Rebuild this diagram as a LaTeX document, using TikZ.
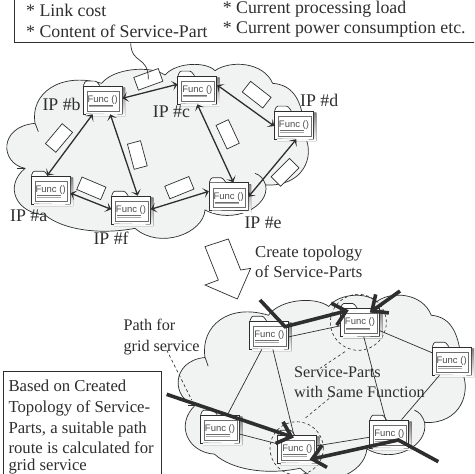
\documentclass[tikz,border=0pt]{standalone}
\usepackage{fontspec}
\setmainfont{Liberation Serif}
\newfontfamily\funcfont{Liberation Sans}
\usetikzlibrary{arrows.meta,calc}
\definecolor{ink}{HTML}{2E2E2E}
\definecolor{cloudfill}{HTML}{F1F2F2}
\definecolor{shade}{HTML}{A8A8A8}
\tikzset{
  folderbody/.style={draw=ink,line width=.7pt,fill=white,minimum width=39pt,minimum height=28pt,inner sep=0pt,text=ink!85,font=\funcfont\fontsize{9.5}{10}\selectfont},
  packet/.style={draw=ink,line width=.7pt,fill=white,minimum width=26pt,minimum height=13.5pt,inner sep=0pt},
  label/.style={anchor=base west,inner sep=0pt,text=ink,font=\fontsize{17.8}{20}\selectfont},
  midlabel/.style={anchor=base west,inner sep=0pt,text=ink,font=\fontsize{16.7}{20}\selectfont},
  smalllabel/.style={anchor=base west,inner sep=0pt,text=ink,font=\fontsize{16.2}{20}\selectfont},
  link/.style={draw=ink,line width=1.3pt,{Stealth[length=5.5pt,width=10pt,inset=3pt]}-{Stealth[length=5.5pt,width=10pt,inset=3pt]}},
  thin link/.style={draw=ink,line width=.7pt},
  route/.style={draw=ink,line width=3.6pt},
  dashring/.style={draw=ink,line width=.6pt,dash pattern=on 3pt off 2.5pt},
  textbox/.style={draw=ink,line width=1pt,fill=white}
}
% chevron head: #1 tail coordinate, #2 tip coordinate
\newcommand{\routehead}[2]{
  \draw[route,miter limit=10] ($(#2)!17pt!42:(#1)$) -- (#2) -- ($(#2)!17pt!-42:(#1)$);
}
\newcommand{\cloudshape}{
  \filldraw[draw=ink,line width=.7pt,fill=cloudfill]
    (105,370) .. controls (90,280) and (180,215) .. (305,250)
    .. controls (340,205) and (450,195) .. (495,225)
    .. controls (530,185) and (620,185) .. (645,212)
    .. controls (690,180) and (790,185) .. (818,250)
    .. controls (880,255) and (910,300) .. (915,410)
    .. controls (945,470) and (910,560) .. (797,555)
    .. controls (810,620) and (700,675) .. (615,630)
    .. controls (610,700) and (480,750) .. (405,685)
    .. controls (300,705) and (190,690) .. (135,645)
    .. controls (50,640) and (10,560) .. (75,505)
    .. controls (0,490) and (-5,380) .. (105,370) -- cycle;
  \draw[draw=ink,line width=.7pt] (105,370) .. controls (110,380) and (112,388) .. (115,395);
  \draw[draw=ink,line width=.7pt] (50,505) -- (75,505);
  \draw[draw=ink,line width=.7pt] (765,520) .. controls (780,525) and (790,535) .. (797,555);
}
% #1 name, #2 position
\newcommand{\folder}[2]{
  \node[folderbody] (#1) at (#2) {\raisebox{-.5pt}{Func ()}};
  \fill[shade] ($(#1.north east)+(0pt,-2pt)$) -- ++(2.5pt,0) -- ++(0,-28.5pt) -- ++(-39pt,0) -- ++(0,2.5pt) -- ($(#1.south east)$) -- cycle;
  \filldraw[draw=ink,line width=.7pt,fill=white,rounded corners=1.2pt] ($(#1.north west)+(.5pt,0)$) -- ++(2pt,4.5pt) -- ++(11pt,0) -- ++(3.5pt,-4.5pt);
  \draw[draw=ink!70,line width=.5pt] ($(#1.north west)+(4pt,-5.5pt)$) rectangle ($(#1.south east)+(-3pt,3.5pt)$);
  \draw[draw=shade,line width=1pt] ($(#1.center)+(-14pt,-7pt)$) -- ++(24pt,0);
  \draw[draw=ink!70,line width=.4pt] ($(#1.center)+(-14pt,-5.5pt)$) -- ++(24pt,0);
}
\begin{document}
\begin{tikzpicture}[x=0.33333pt,y=-0.33333pt]
\useasboundingbox (0,0) rectangle (1422,1422);
\clip (0,0) rectangle (1422,1422);
\fill[white] (0,0) rectangle (1422,1422);

% top box
\node[textbox,anchor=south west,minimum width=480pt,minimum height=60pt,inner sep=0pt] (topbox) at (42,130) {};
\node[label] (t1) at (78,50) {* Link cost};
\node[label] (t2) at (78,112) {* Content of Service-Part};
\node[label] (t3) at (668,40) {* Current processing load};
\node[label] (t4) at (668,102) {* Current power consumption etc.};

% upper cloud
\cloudshape
\node[packet,rotate=20] (p1) at (445,238) {};
\node[packet,rotate=50] (p2) at (177,414) {};
\node[packet,rotate=-75] (p3) at (412,465) {};
\node[packet,rotate=-23] (p4) at (274,565) {};
\node[packet,rotate=22] (p5) at (538,563) {};
\node[packet,rotate=-65] (p6) at (683,403) {};
\node[packet,rotate=-38] (p7) at (770,284) {};
\node[packet,rotate=45] (p8) at (855,517) {};
\coordinate (boxfoot) at (392,130);
\draw[thin link] (boxfoot) .. controls (395,195) and (445,165) .. (p1.center);

\folder{a}{152,570}
\folder{b}{308,300}
\folder{c}{592,270}
\folder{d}{882,375}
\folder{e}{686,590}
\folder{f}{393,630}
\draw[link] (a.104) -- (b.-125);
\draw[link] (b.5) -- (c.164);
\draw[link] (b.-62) -- (f.65);
\draw[link] (a.-9) -- (f.178);
\draw[link] (f.2) -- (e.165);
\draw[link] (c.-90) -- (e.72);
\draw[link] (c.14) -- (d.-177);
\draw[link] (e.0) -- (d.-81);

\node[label] (ipa) at (30,664) {IP \#a};
\node[label] (ipb) at (127,330) {IP \#b};
\node[label] (ipc) at (458,353) {IP \#c};
\node[label] (ipd) at (900,320) {IP \#d};
\node[label] (ipe) at (733,684) {IP \#e};
\node[label] (ipf) at (280,732) {IP \#f};

\begin{scope}[shift={(0,705)}]
% hollow arrow
\filldraw[draw=ink,line width=.7pt,fill=white] (615,35) -- (685,12) -- (722,105) -- (752,100) -- (712,192) -- (615,150) -- (655,135) -- cycle;
\node[midlabel] (l1) at (765,66) {Create topology};
\node[midlabel] (l2) at (765,128) {of Service-Parts};

% lower cloud
\begin{scope}[shift={(515,-23)},xscale=.952,yscale=1.055]
\cloudshape
\end{scope}

\draw[dashring] (1075,262) circle[radius=84*0.33333pt];
\draw[dashring] (890,640) circle[radius=80*0.33333pt];

\folder{a2}{660,582}
\folder{b2}{808,300}
\folder{c2}{1080,262}
\folder{d2}{1355,378}
\folder{e2}{1168,597}
\folder{f2}{892,642}
\draw[thin link] (a2) -- (b2);
\draw[thin link] (b2.-5) -- (c2.190);
\draw[thin link] (b2) -- (f2);
\draw[thin link] (a2) -- (f2);
\draw[thin link] (f2) -- (e2);
\draw[thin link] (c2) -- (e2);
\draw[thin link] (c2) -- (d2);
\draw[thin link] (e2) -- (d2);

% pointers
\coordinate (pgs) at (500,345);
\coordinate (pgt) at (575,495);
\draw[dashring] (pgs) -- (pgt);
\coordinate (sa) at (1035,350);
\coordinate (sb) at (960,400);
\draw[dashring] (sa) -- (sb);
\coordinate (sc) at (1000,480);
\coordinate (sd) at (915,550);
\draw[dashring] (sc) -- (sd);

% routes
\coordinate (r1a) at (780,195);
\coordinate (r1b) at (855,275);
\coordinate (r1t) at ($(c2.north west)+(6pt,-3pt)$);
\draw[route] (r1a) -- (r1b) -- (r1t);
\routehead{r1b}{r1t}
\coordinate (r2a) at (1200,168);
\coordinate (r2t) at ($(c2.north)+(12pt,-3pt)$);
\draw[route] (r2a) -- (r2t);
\routehead{r2a}{r2t}
\coordinate (r3a) at (500,478);
\coordinate (r3t) at ($(f2.north)+(-6pt,-2pt)$);
\draw[route] (r3a) -- (r3t);
\routehead{r3a}{r3t}
\coordinate (r4a) at (1315,680);
\coordinate (r4b) at (1195,615);
\coordinate (r4t) at ($(f2.east)+(-5pt,-10pt)$);
\draw[route] (r4a) -- (r4b) -- (r4t);
\routehead{r4b}{r4t}

\node[smalllabel] (pf1) at (370,285) {Path for};
\node[smalllabel] (pf2) at (370,350) {grid service};
\node[smalllabel] (sp1) at (882,428) {Service-Parts};
\node[smalllabel] (sp2) at (882,488) {with Same Function};

% left box
\node[textbox,anchor=north west,minimum width=158pt,minimum height=120pt,inner sep=0pt] (leftbox) at (8,408) {};
\node[midlabel] (b1) at (25,470) {Based on Created};
\node[midlabel] (b2t) at (25,532) {Topology of Service-};
\node[midlabel] (b3) at (25,594) {Parts, a suitable path};
\node[midlabel] (b4) at (25,656) {route is calculated for};
\node[midlabel] (b5) at (25,705) {grid service};
\end{scope}
\end{tikzpicture}
\end{document}
